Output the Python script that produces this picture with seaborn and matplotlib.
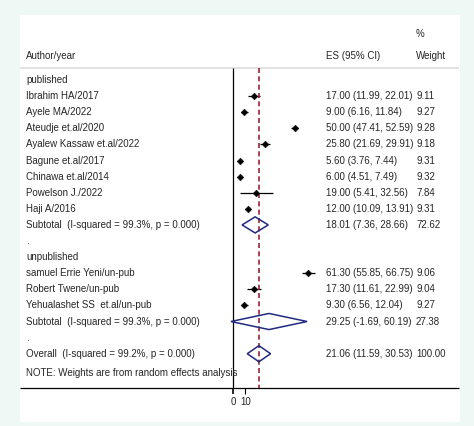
import matplotlib
matplotlib.use("Agg")
import matplotlib.pyplot as plt
import seaborn as sns
import pandas as pd
from matplotlib.patches import Polygon, Rectangle

sns.set_style("white")
plt.rcParams['font.family'] = ['Liberation Sans', 'DejaVu Sans']

pub_names = ["Ibrahim HA/2017", "Ayele MA/2022", "Ateudje et.al/2020", "Ayalew Kassaw et.al/2022",
             "Bagune et.al/2017", "Chinawa et.al/2014", "Powelson J./2022", "Haji A/2016"]
pub_es = [17.00, 9.00, 50.00, 25.80, 5.60, 6.00, 19.00, 12.00]
pub_lo = [11.99, 6.16, 47.41, 21.69, 3.76, 4.51, 5.41, 10.09]
pub_hi = [22.01, 11.84, 52.59, 29.91, 7.44, 7.49, 32.56, 13.91]
pub_w = [9.11, 9.27, 9.28, 9.18, 9.31, 9.32, 7.84, 9.31]
unp_names = ["samuel Errie Yeni/un-pub", "Robert Twene/un-pub", "Yehualashet SS  et.al/un-pub"]
unp_es = [61.30, 17.30, 9.30]
unp_lo = [55.85, 11.61, 6.56]
unp_hi = [66.75, 22.99, 12.04]
unp_w = [9.06, 9.04, 9.27]
sub_labels = ["Subtotal  (I-squared = 99.3%, p = 0.000)", "Subtotal  (I-squared = 99.3%, p = 0.000)",
              "Overall  (I-squared = 99.2%, p = 0.000)"]
sub_es = [18.01, 29.25, 21.06]
sub_lo = [7.36, -1.69, 11.59]
sub_hi = [28.66, 60.19, 30.53]
sub_w = [72.62, 27.38, 100.00]
xticks = [0, 10]

fig = plt.figure(figsize=(4.74, 4.26), dpi=100, facecolor="#eef8f4")
ax = fig.add_axes([0, 0, 1, 1])
ax.patch.set_alpha(0)
ax.set_xlim(-189.4, 195.9)
ax.set_ylim(21.49, -4.97)
ax.axis("off")
ax.add_patch(Rectangle((20/474, 4/426), 440/474, 407/426, transform=fig.transFigure,
                       facecolor="white", edgecolor="none", zorder=0, clip_on=False))

rows = []
for i, n in enumerate(pub_names):
    rows.append(dict(name=n, es=pub_es[i], lo=pub_lo[i], hi=pub_hi[i], w=pub_w[i], row=1 + i))
for i, n in enumerate(unp_names):
    rows.append(dict(name=n, es=unp_es[i], lo=unp_lo[i], hi=unp_hi[i], w=unp_w[i], row=12 + i))
df = pd.DataFrame(rows)
fs = 7
xn, xe, xw = -168.3, 75.6, 148.8

ax.hlines(df.row, df.lo, df.hi, color="black", lw=0.9, zorder=2)
sns.scatterplot(data=df, x="es", y="row", ax=ax, color="black", s=12, marker="D", edgecolor="black", zorder=3, legend=False)
ax.set_xlim(-189.4, 195.9)
ax.set_ylim(21.49, -4.97)
for _, r in df.iterrows():
    ax.text(xn, r.row, r["name"], fontsize=fs, va="center")
    ax.text(xe, r.row, f"{r.es:.2f} ({r.lo:.2f}, {r.hi:.2f})", fontsize=fs, va="center")
    ax.text(xw, r.row, f"{r.w:.2f}", fontsize=fs, va="center")

sub_rows = [9, 15, 17]
for k in range(3):
    y = sub_rows[k]
    ax.add_patch(Polygon([(sub_lo[k], y), (sub_es[k], y - 0.5), (sub_hi[k], y), (sub_es[k], y + 0.5)],
                         closed=True, fill=False, edgecolor="#1f2a80", lw=1.1, zorder=4))
    ax.text(xn, y, sub_labels[k], fontsize=fs, va="center")
    ax.text(xe, y, f"{sub_es[k]:.2f} ({sub_lo[k]:.2f}, {sub_hi[k]:.2f})", fontsize=fs, va="center")
    ax.text(xw, y, f"{sub_w[k]:.2f}", fontsize=fs, va="center")

ax.text(xn, 0, "published", fontsize=fs, va="center")
ax.text(xn, 11, "unpublished", fontsize=fs, va="center")
ax.text(xn, 10, ".", fontsize=fs, va="center")
ax.text(xn, 16, ".", fontsize=fs, va="center")
ax.text(xn, 18.2, "NOTE: Weights are from random effects analysis", fontsize=fs, va="center")
ax.text(xn, -1.5, "Author/year", fontsize=fs, va="center")
ax.text(xe, -1.5, "ES (95% CI)", fontsize=fs, va="center")
ax.text(xw, -2.85, "%", fontsize=fs, va="center")
ax.text(xw, -1.5, "Weight", fontsize=fs, va="center")

ax.hlines([-0.75], -173, 183.7, color="#dddddd", lw=1.2)
ax.hlines([19.1], -173, 183.7, color="black", lw=0.9)
ax.vlines(0, -0.75, 19.1, color="black", lw=0.9)
ax.vlines(sub_es[2], -0.75, 19.1, color="#9b2335", lw=1.2, linestyles=(0, (3, 2)))
for t in xticks:
    ax.vlines(t, 19.1, 19.5, color="black", lw=1.2 if t == 0 else 0.8)
    ax.text(t, 20.0, str(t), fontsize=fs, ha="center", va="center")

fig.savefig("out.png", dpi=100, facecolor=fig.get_facecolor())
